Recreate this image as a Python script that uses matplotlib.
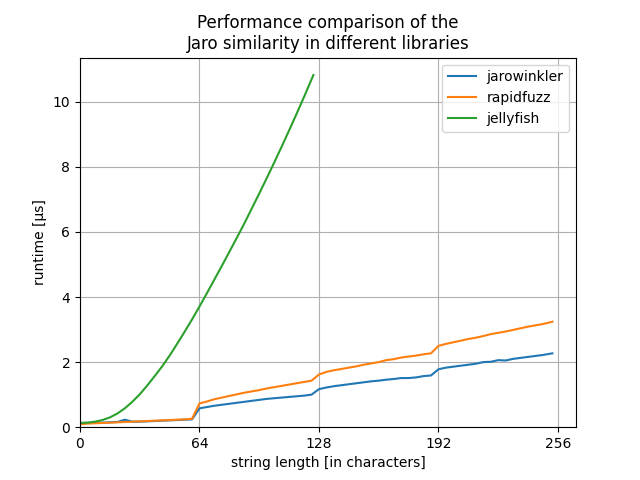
import matplotlib
matplotlib.use('Agg')
import matplotlib.pyplot as plt

# string lengths used for the measurements
lengths = list(range(0, 249, 4)) + [253]

# runtime in microseconds
jarowinkler = [
    0.13, 0.13, 0.14, 0.14, 0.15, 0.16, 0.23, 0.17, 0.17, 0.18, 0.19, 0.20, 0.21, 0.22, 0.23, 0.24,
    0.58, 0.62, 0.66, 0.69, 0.72, 0.75, 0.78, 0.81, 0.84, 0.87, 0.89, 0.91, 0.93, 0.95, 0.97, 1.00,
    1.17, 1.22, 1.26, 1.29, 1.32, 1.35, 1.38, 1.41, 1.43, 1.46, 1.48, 1.51, 1.51, 1.53, 1.57, 1.59,
    1.78, 1.83, 1.86, 1.89, 1.92, 1.95, 2.00, 2.01, 2.06, 2.05, 2.10, 2.13, 2.16, 2.19, 2.22, 2.27,
]
rapidfuzz = [
    0.09, 0.11, 0.12, 0.13, 0.14, 0.15, 0.16, 0.17, 0.18, 0.19, 0.20, 0.21, 0.22, 0.23, 0.24, 0.26,
    0.73, 0.79, 0.86, 0.91, 0.96, 1.01, 1.06, 1.10, 1.14, 1.19, 1.23, 1.27, 1.31, 1.35, 1.39, 1.43,
    1.62, 1.70, 1.75, 1.79, 1.83, 1.87, 1.92, 1.96, 2.00, 2.06, 2.09, 2.14, 2.17, 2.20, 2.24, 2.27,
    2.50, 2.56, 2.61, 2.66, 2.71, 2.75, 2.80, 2.86, 2.90, 2.94, 2.99, 3.04, 3.09, 3.13, 3.17, 3.24,
]

# jellyfish was only measured up to ~125 characters
jelly_lengths = [0, 4, 8, 12, 16, 20, 24, 28, 32, 36, 40, 44, 48, 52, 56, 60,
                 64, 68, 72, 76, 80, 84, 88, 92, 96, 100, 104, 108, 112, 116, 120, 125]
jellyfish = [
    0.13, 0.14, 0.17, 0.22, 0.30, 0.42, 0.58, 0.78, 1.01, 1.28, 1.57, 1.87, 2.20, 2.56, 2.93, 3.31,
    3.71, 4.12, 4.54, 4.96, 5.39, 5.82, 6.26, 6.72, 7.18, 7.65, 8.13, 8.62, 9.12, 9.63, 10.15, 10.82,
]

fig, ax = plt.subplots()
ax.plot(lengths, jarowinkler, label="jarowinkler")
ax.plot(lengths, rapidfuzz, label="rapidfuzz")
ax.plot(jelly_lengths, jellyfish, label="jellyfish")

ax.set_xlim(left=0)
ax.set_ylim(bottom=0)
ax.set_xticks([0, 64, 128, 192, 256])
ax.set_title("Performance comparison of the\nJaro similarity in different libraries")
ax.set_xlabel("string length [in characters]")
ax.set_ylabel("runtime [µs]")
ax.legend()
ax.grid()

plt.savefig("out.png")
